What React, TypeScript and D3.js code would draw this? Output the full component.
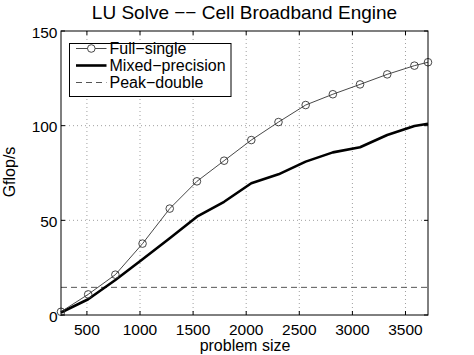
import React from "react";
import * as d3 from "d3";

const sizes = [256, 512, 768, 1024, 1280, 1536, 1792, 2048, 2304, 2560, 2816, 3072, 3328, 3584, 3712];
const fullSingle = [1.7, 10.9, 21.3, 37.7, 56.2, 70.6, 81.5, 92.4, 101.9, 110.9, 116.6, 121.8, 127.1, 131.7, 133.5];
const mixedPrecision = [1.3, 8.3, 18.5, 29.4, 40.5, 51.9, 59.8, 69.6, 74.3, 81.0, 85.9, 88.6, 95.1, 99.8, 101.0];
const peakDouble = 14.6;
const xTicks = [500, 1000, 1500, 2000, 2500, 3000, 3500];
const yTicks = [0, 50, 100, 150];
const legendLabels = ["Full−single", "Mixed−precision", "Peak−double"];

const W = 474, H = 355;
const L = 61, R = 428, T = 31, B = 315;
const FONT = "'Liberation Sans', Arial, Helvetica, sans-serif";

export default function App() {
  const x = d3.scaleLinear().domain([256, 3712]).range([L, R]);
  const y = d3.scaleLinear().domain([0, 150]).range([B, T]);
  const line = d3.line<number>().x((_, i) => x(sizes[i])).y((d) => y(d));
  const tk = 4;
  const legRows = [48.5, 65.5, 82.5];
  return (
    <svg width={W} height={H} style={{ position: "absolute", left: 0, top: 0, background: "#fff" }} fontFamily={FONT}>
      <rect x={0} y={0} width={W} height={H} fill="#fff" />
      {/* grid */}
      {xTicks.map((t) => (
        <line key={"gx" + t} x1={x(t)} x2={x(t)} y1={T} y2={B} stroke="#888" strokeWidth={0.8} strokeDasharray="1,3" />
      ))}
      {yTicks.filter((t) => t > 0 && t < 150).map((t) => (
        <line key={"gy" + t} x1={L} x2={R} y1={y(t)} y2={y(t)} stroke="#888" strokeWidth={0.8} strokeDasharray="1,3" />
      ))}
      {/* ticks */}
      {xTicks.map((t) => (
        <g key={"tx" + t}>
          <line x1={x(t)} x2={x(t)} y1={B} y2={B - tk} stroke="#000" />
          <line x1={x(t)} x2={x(t)} y1={T} y2={T + tk} stroke="#000" />
          <text x={x(t)} y={329} textAnchor="middle" dominantBaseline="central" fontSize={15.5}>{t}</text>
        </g>
      ))}
      {yTicks.map((t) => (
        <g key={"ty" + t}>
          <line x1={L} x2={L + tk} y1={y(t)} y2={y(t)} stroke="#000" />
          <line x1={R} x2={R - tk} y1={y(t)} y2={y(t)} stroke="#000" />
          <text x={57.5} y={y(t) + 1} textAnchor="end" dominantBaseline="central" fontSize={15.5}>{t}</text>
        </g>
      ))}
      {/* peak double */}
      <line x1={L} x2={R} y1={y(peakDouble)} y2={y(peakDouble)} stroke="#555" strokeWidth={1} strokeDasharray="6,4" />
      {/* mixed */}
      <path d={line(mixedPrecision) || ""} fill="none" stroke="#000" strokeWidth={2.6} strokeLinejoin="round" />
      {/* full single */}
      <path d={line(fullSingle) || ""} fill="none" stroke="#333" strokeWidth={0.9} />
      {fullSingle.map((v, i) => (
        <circle key={"c" + i} cx={x(sizes[i])} cy={y(v)} r={3.8} fill="none" stroke="#333" strokeWidth={0.9} />
      ))}
      {/* frame */}
      <rect x={L} y={T} width={R - L} height={B - T} fill="none" stroke="#000" strokeWidth={1} />
      {/* legend */}
      <rect x={69.5} y={43.5} width={161.5} height={53} fill="#fff" stroke="#000" strokeWidth={1} />
      <line x1={76} x2={106.5} y1={legRows[0]} y2={legRows[0]} stroke="#333" strokeWidth={0.9} />
      <circle cx={91.3} cy={legRows[0]} r={3.8} fill="#fff" stroke="#333" strokeWidth={0.9} />
      <line x1={76} x2={106.5} y1={legRows[1]} y2={legRows[1]} stroke="#000" strokeWidth={2.6} />
      <line x1={76} x2={106.5} y1={legRows[2]} y2={legRows[2]} stroke="#555" strokeWidth={1} strokeDasharray="6,4" />
      {legendLabels.map((s, i) => (
        <text key={s} x={109.5} y={legRows[i]} dominantBaseline="central" fontSize={16}>{s}</text>
      ))}
      {/* titles */}
      <text x={244.5} y={12} textAnchor="middle" dominantBaseline="central" fontSize={19}>LU Solve −− Cell Broadband Engine</text>
      <text x={245} y={345} textAnchor="middle" dominantBaseline="central" fontSize={16}>problem size</text>
      <text transform={`translate(9.5,172) rotate(-90)`} textAnchor="middle" dominantBaseline="central" fontSize={16}>Gflop/s</text>
    </svg>
  );
}
